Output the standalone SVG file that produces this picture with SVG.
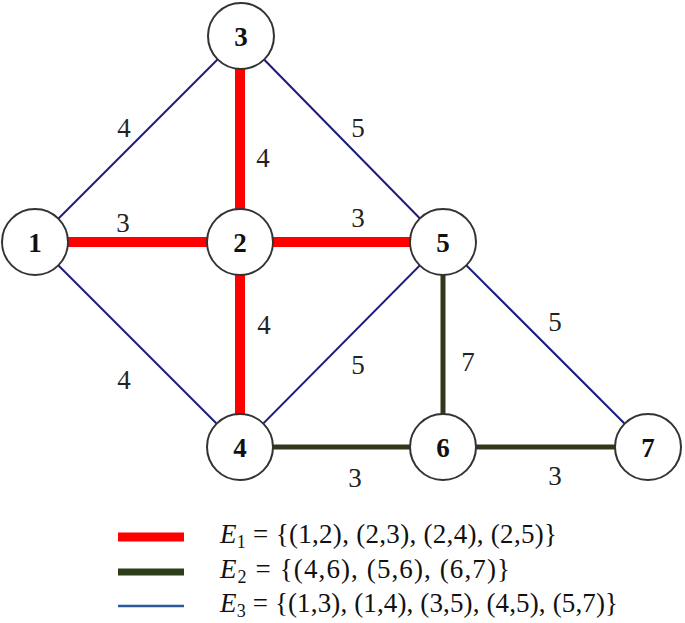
<svg xmlns="http://www.w3.org/2000/svg" width="685" height="623" viewBox="0 0 685 623">
<style>
.e1{stroke:#ff0000;stroke-width:10;fill:none}
.e2{stroke:#33361a;stroke-width:5;fill:none}
.e3{stroke:#1c1c80;stroke-width:2;fill:none}
.node circle{fill:#fff;stroke:#333;stroke-width:2}
.node text{font-family:'Liberation Serif','Times New Roman','DejaVu Serif',serif;font-weight:bold;font-size:27px;text-anchor:middle;fill:#111}
.lbl{font-family:'Liberation Serif','Times New Roman','DejaVu Serif',serif;font-size:27px;text-anchor:middle;fill:#222}
.leg{font-family:'Liberation Serif','Times New Roman','DejaVu Serif',serif;font-size:27px;fill:#111}
</style>
<rect width="685" height="623" fill="#fff"/>
<g id="connectors">
<line class="e3" x1="35" y1="242" x2="241" y2="36"/>
<line class="e3" x1="35" y1="242" x2="240" y2="447"/>
<line class="e3" x1="241" y1="36" x2="443" y2="242"/>
<line class="e3" x1="240" y1="447" x2="443" y2="242"/>
<line class="e3" x1="443" y1="242" x2="648" y2="447"/>
<line class="e2" x1="240" y1="447" x2="443" y2="447"/>
<line class="e2" x1="443" y1="242" x2="443" y2="447"/>
<line class="e2" x1="443" y1="447" x2="648" y2="447"/>
<line class="e1" x1="35" y1="242" x2="240" y2="242"/>
<line class="e1" x1="240" y1="36" x2="240" y2="242"/>
<line class="e1" x1="240" y1="242" x2="240" y2="447"/>
<line class="e1" x1="240" y1="242" x2="443" y2="242"/>
<text class="lbl" x="124" y="137">4</text>
<text class="lbl" x="263" y="167">4</text>
<text class="lbl" x="123" y="232">3</text>
<text class="lbl" x="358" y="227">3</text>
<text class="lbl" x="358" y="137">5</text>
<text class="lbl" x="264" y="334">4</text>
<text class="lbl" x="124" y="389">4</text>
<text class="lbl" x="358" y="374">5</text>
<text class="lbl" x="468" y="371">7</text>
<text class="lbl" x="555" y="331">5</text>
<text class="lbl" x="355" y="487">3</text>
<text class="lbl" x="555" y="485">3</text>
</g>
<g id="node1" class="node"><circle cx="35" cy="242" r="33"/><text x="35" y="252">1</text></g>
<g id="node2" class="node"><circle cx="240" cy="242" r="33"/><text x="240" y="252">2</text></g>
<g id="node3" class="node"><circle cx="241" cy="36" r="33"/><text x="241" y="46">3</text></g>
<g id="node4" class="node"><circle cx="240" cy="447" r="33"/><text x="240" y="457">4</text></g>
<g id="node5" class="node"><circle cx="443" cy="242" r="33"/><text x="443" y="252">5</text></g>
<g id="node6" class="node"><circle cx="443" cy="447" r="33"/><text x="443" y="457">6</text></g>
<g id="node7" class="node"><circle cx="648" cy="447" r="33"/><text x="648" y="457">7</text></g>
<g id="legend">
<line x1="118" y1="537" x2="184" y2="537" stroke="#ff0000" stroke-width="9"/>
<line x1="118" y1="572" x2="184" y2="572" stroke="#2d3d1a" stroke-width="7"/>
<line x1="118" y1="606" x2="184" y2="606" stroke="#2a5a9a" stroke-width="2.5"/>
<text class="leg" x="220" y="543" textLength="337" lengthAdjust="spacing"><tspan font-style="italic">E</tspan><tspan font-size="18" dy="5">1</tspan><tspan dy="-5"> = {(1,2), (2,3), (2,4), (2,5)}</tspan></text>
<text class="leg" x="220" y="578" textLength="290" lengthAdjust="spacing"><tspan font-style="italic">E</tspan><tspan font-size="18" dy="5">2</tspan><tspan dy="-5"> = {(4,6), (5,6), (6,7)}</tspan></text>
<text class="leg" x="220" y="612" textLength="398" lengthAdjust="spacing"><tspan font-style="italic">E</tspan><tspan font-size="18" dy="5">3</tspan><tspan dy="-5"> = {(1,3), (1,4), (3,5), (4,5), (5,7)}</tspan></text>
</g>
</svg>
